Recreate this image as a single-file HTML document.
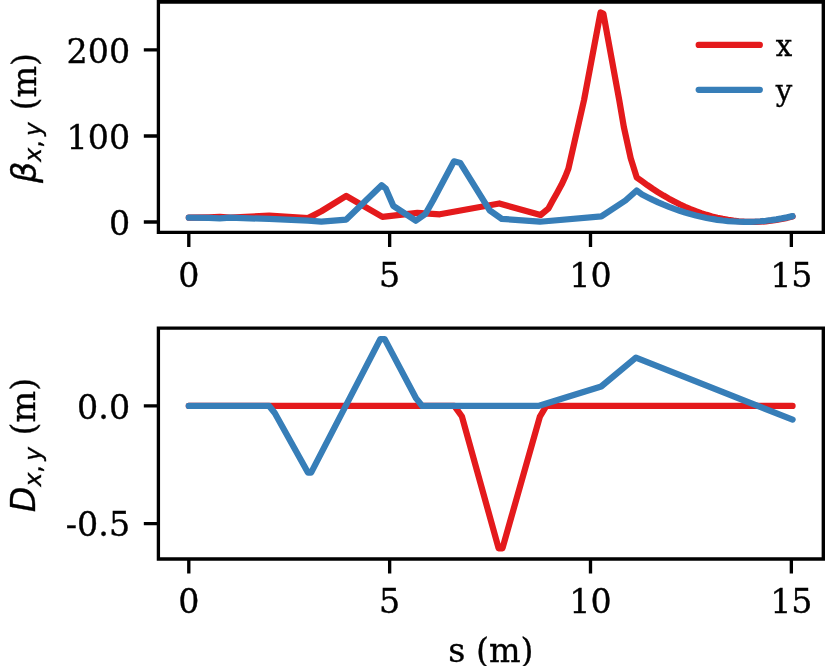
<!DOCTYPE html>
<html><head><meta charset="utf-8"><title>Lattice functions</title>
<style>html,body{margin:0;padding:0;background:#fff;}svg{display:block;}</style>
</head><body>
<svg width="825" height="666" viewBox="0 0 825 666">
<rect x="0" y="0" width="825" height="666" fill="#fff"/>
<defs><clipPath id="c1"><rect x="158.4" y="2.2" width="664.9" height="230.15"/></clipPath><clipPath id="c2"><rect x="158.4" y="328.05" width="664.9" height="230.95"/></clipPath></defs>
<style>text{stroke:#000;stroke-width:0.35;paint-order:stroke;}</style>
<g clip-path="url(#c1)">
<polyline points="188.80,217.70 208.89,217.27 219.73,216.84 230.18,217.70 269.14,215.72 308.10,218.13 321.36,211.25 346.27,195.93 382.42,216.84 417.37,212.97 439.86,214.26 499.31,203.50 540.61,215.03 548.32,208.67 552.34,201.35 557.16,192.75 561.58,184.58 565.39,176.41 568.41,168.66 584.07,99.84 600.54,12.53 603.35,13.56 619.22,100.02 623.84,127.03 630.67,158.08 636.70,177.44 642.07,181.31 647.44,185.17 652.82,188.83 658.19,192.30 663.57,195.58 668.94,198.66 674.32,201.56 679.69,204.25 685.07,206.76 690.44,209.08 695.81,211.20 701.19,213.13 706.56,214.87 711.94,216.41 717.31,217.76 722.69,218.92 728.06,219.89 733.44,220.67 738.81,221.25 744.18,221.64 749.56,221.84 754.93,221.84 760.31,221.65 765.68,221.27 771.06,220.70 776.43,219.94 781.81,218.98 787.18,217.83 792.56,216.49" stroke="#e41a1c" fill="none" stroke-width="6.25" stroke-linecap="round" stroke-linejoin="round"/>
<polyline points="188.80,217.70 208.89,217.96 219.73,218.30 230.18,217.70 269.14,218.99 308.10,220.71 321.36,221.57 346.27,219.59 381.62,185.27 385.83,188.62 393.27,205.83 415.76,220.71 425.40,214.00 433.03,200.49 453.92,161.35 460.35,163.07 489.67,210.39 501.72,218.82 539.89,221.74 601.35,216.41 625.45,200.49 636.70,190.51 642.07,194.44 647.44,197.21 652.82,199.84 658.19,202.31 663.57,204.64 668.94,206.82 674.32,208.86 679.69,210.74 685.07,212.48 690.44,214.07 695.81,215.51 701.19,216.80 706.56,217.95 711.94,218.95 717.31,219.79 722.69,220.49 728.06,221.05 733.44,221.45 738.81,221.71 744.18,221.82 749.56,221.78 754.93,221.59 760.31,221.25 765.68,220.77 771.06,220.14 776.43,219.36 781.81,218.43 787.18,217.35 792.56,216.13" stroke="#377eb8" fill="none" stroke-width="6.25" stroke-linecap="round" stroke-linejoin="round"/>
</g>
<g clip-path="url(#c2)">
<polyline points="188.80,405.95 454.32,405.95 461.96,416.54 498.59,548.25 502.49,548.25 539.89,416.54 546.31,405.95 792.56,405.95" stroke="#e41a1c" fill="none" stroke-width="6.25" stroke-linecap="round" stroke-linejoin="round"/>
<polyline points="188.80,405.95 269.14,405.95 274.76,413.01 307.90,472.59 311.12,472.59 380.29,339.10 384.71,339.10 416.16,398.42 422.19,405.95 538.28,405.95 564.79,397.71 601.19,386.51 635.89,357.69 792.56,419.60" stroke="#377eb8" fill="none" stroke-width="6.25" stroke-linecap="round" stroke-linejoin="round"/>
</g>
<path d="M156.74,0.00H825.00V234.01H156.74Z M160.06,3.65V230.69H821.63V3.65Z" fill="#000" fill-rule="evenodd"/>
<path d="M156.74,326.38H825.00V560.66H156.74Z M160.06,329.72V557.34H821.63V329.72Z" fill="#000" fill-rule="evenodd"/>
<path d="M188.80,232.35V246.93M389.65,232.35V246.93M590.50,232.35V246.93M791.35,232.35V246.93M188.80,559.00V573.58M389.65,559.00V573.58M590.50,559.00V573.58M791.35,559.00V573.58M158.40,222.00H143.82M158.40,135.98H143.82M158.40,49.95H143.82M158.40,405.95H143.82M158.40,523.65H143.82" stroke="#000" stroke-width="3.33" fill="none"/>
<text x="188.80" y="286.84" font-family="DejaVu Serif, serif" font-size="33.33" text-anchor="middle" >0</text>
<text x="389.65" y="286.84" font-family="DejaVu Serif, serif" font-size="33.33" text-anchor="middle" >5</text>
<text x="590.50" y="286.84" font-family="DejaVu Serif, serif" font-size="33.33" text-anchor="middle" >10</text>
<text x="791.35" y="286.84" font-family="DejaVu Serif, serif" font-size="33.33" text-anchor="middle" >15</text>
<text x="188.80" y="613.49" font-family="DejaVu Serif, serif" font-size="33.33" text-anchor="middle" >0</text>
<text x="389.65" y="613.49" font-family="DejaVu Serif, serif" font-size="33.33" text-anchor="middle" >5</text>
<text x="590.50" y="613.49" font-family="DejaVu Serif, serif" font-size="33.33" text-anchor="middle" >10</text>
<text x="791.35" y="613.49" font-family="DejaVu Serif, serif" font-size="33.33" text-anchor="middle" >15</text>
<text x="130.13" y="234.76" font-family="DejaVu Serif, serif" font-size="33.33" text-anchor="end" >0</text>
<text x="130.13" y="148.74" font-family="DejaVu Serif, serif" font-size="33.33" text-anchor="end" >100</text>
<text x="130.13" y="62.71" font-family="DejaVu Serif, serif" font-size="33.33" text-anchor="end" >200</text>
<text x="130.13" y="536.41" font-family="DejaVu Serif, serif" font-size="33.33" text-anchor="end" >-0.5</text>
<text x="130.13" y="418.71" font-family="DejaVu Serif, serif" font-size="33.33" text-anchor="end" >0.0</text>
<text x="490.85" y="662.12" font-family="DejaVu Serif, serif" font-size="33.33" text-anchor="middle" >s (m)</text>
<g transform="translate(39.21 182.93) rotate(-90)">
<text font-family="DejaVu Sans, sans-serif" font-style="italic" font-size="33.33" x="0" y="-3.65">β</text>
<text font-family="DejaVu Sans, sans-serif" font-style="italic" font-size="23.33" x="21.27" y="1.82">x</text>
<text font-family="DejaVu Sans, sans-serif" font-size="23.33" x="35.08" y="1.82">,</text>
<text font-family="DejaVu Sans, sans-serif" font-style="italic" font-size="23.33" x="47.04" y="1.82">y</text>
<text font-family="DejaVu Serif, serif" font-size="33.33" x="72.36" y="-3.65">(m)</text>
</g>
<g transform="translate(38.96 512.16) rotate(-90)">
<text font-family="DejaVu Sans, sans-serif" font-style="italic" font-size="33.33" x="0" y="-3.84">D</text>
<text font-family="DejaVu Sans, sans-serif" font-style="italic" font-size="23.33" x="25.67" y="1.63">x</text>
<text font-family="DejaVu Sans, sans-serif" font-size="23.33" x="39.48" y="1.63">,</text>
<text font-family="DejaVu Sans, sans-serif" font-style="italic" font-size="23.33" x="51.44" y="1.63">y</text>
<text font-family="DejaVu Serif, serif" font-size="33.33" x="76.75" y="-3.84">(m)</text>
</g>
<line x1="698.7" y1="44.9" x2="759.8" y2="44.9" stroke="#e41a1c" stroke-width="6.25" stroke-linecap="round"/>
<line x1="698.7" y1="89.8" x2="759.8" y2="89.8" stroke="#377eb8" stroke-width="6.25" stroke-linecap="round"/>
<text x="775.80" y="55.90" font-family="DejaVu Serif, serif" font-size="29.17" text-anchor="start" >x</text>
<text x="775.80" y="100.50" font-family="DejaVu Serif, serif" font-size="29.17" text-anchor="start" >y</text>
</svg>
</body></html>
